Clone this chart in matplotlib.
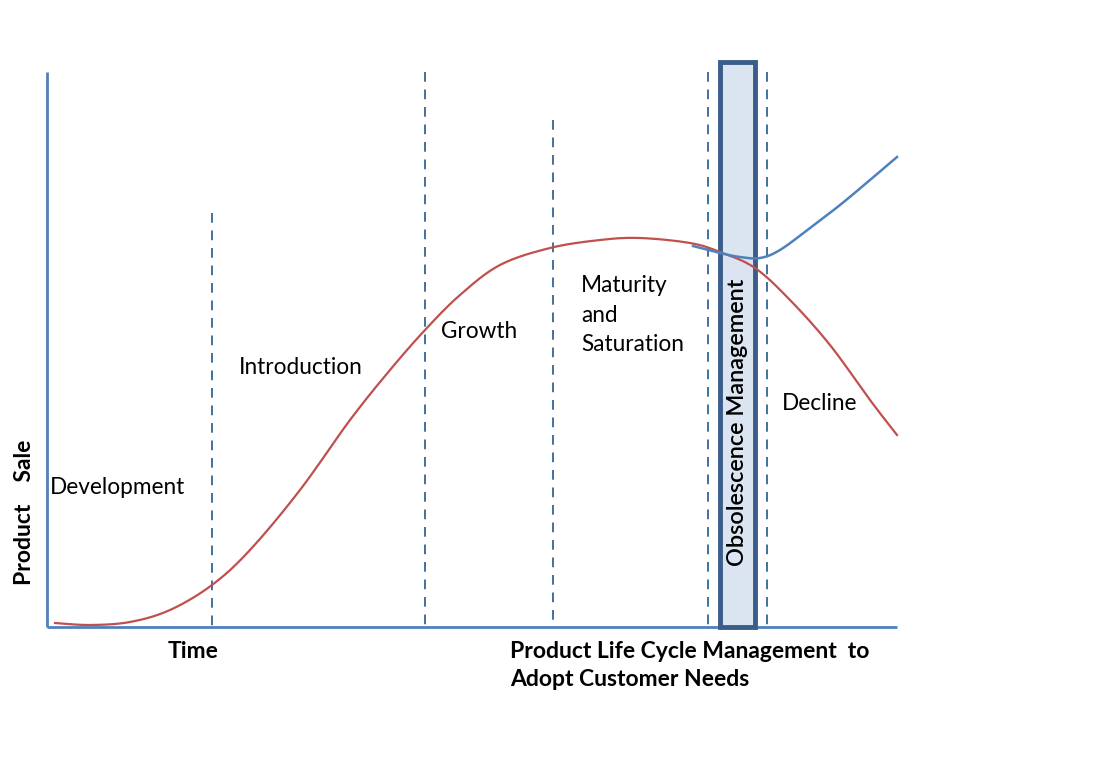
import matplotlib
matplotlib.use("Agg")
import matplotlib.pyplot as plt
import numpy as np
from matplotlib.patches import Rectangle

W, H = 1111, 782

# Sales curve (pixel-space coordinates of the diagram)
sales_x = [55, 90, 130, 170, 212, 250, 300, 350, 390, 425, 460, 500, 550, 600, 640, 690, 720, 755, 790, 830, 870, 897]
sales_y = [623, 625, 622, 610, 585, 550, 490, 420, 370, 330, 295, 265, 248, 240, 238, 243, 252, 268, 300, 345, 400, 435]

# New product curve after obsolescence management
new_x = [693, 720, 740, 760, 780, 810, 840, 870, 897]
new_y = [246, 253, 257, 258, 250, 228, 205, 180, 157]

# Phase boundaries: x, top y
bound_x = [212, 425, 553, 708, 767]
bound_top = [213, 72, 120, 72, 72]

phase_labels = ["Development", "Introduction", "Growth", "Maturity\nand\nSaturation", "Decline"]
phase_pos = [(50, 487), (239, 367), (441, 331), (581, 315), (782, 404)]

plt.rcParams['font.family'] = ['Lato', 'DejaVu Sans']
fig = plt.figure(figsize=(W / 100, H / 100), dpi=100)
ax = fig.add_axes([0, 0, 1, 1])
ax.set_xlim(0, W)
ax.set_ylim(H, 0)
ax.axis('off')

axis_col = '#4f81bd'
base_y = 627
left_x = 47
right_x = 897
ax.plot([left_x, left_x], [72, base_y], color=axis_col, lw=2, solid_capstyle='butt')
ax.plot([left_x, right_x], [base_y, base_y], color=axis_col, lw=2, solid_capstyle='butt')

for bx, bt in zip(bound_x, bound_top):
    ax.plot([bx, bx], [bt, base_y], color='#41719c', lw=1.4, ls=(0, (5, 4)))

ax.add_patch(Rectangle((720, 62), 35, base_y - 62, facecolor='#dbe5f1', edgecolor='#3a5d8a', lw=3.5, zorder=3))


def smooth(xs, ys):
    xs = np.asarray(xs, float); ys = np.asarray(ys, float)
    out = []
    for i in range(len(xs) - 1):
        p0 = np.array([xs[max(i - 1, 0)], ys[max(i - 1, 0)]])
        p1 = np.array([xs[i], ys[i]])
        p2 = np.array([xs[i + 1], ys[i + 1]])
        p3 = np.array([xs[min(i + 2, len(xs) - 1)], ys[min(i + 2, len(xs) - 1)]])
        for s in np.linspace(0, 1, 20, endpoint=False):
            s2, s3 = s * s, s * s * s
            pt = 0.5 * ((2 * p1) + (-p0 + p2) * s + (2 * p0 - 5 * p1 + 4 * p2 - p3) * s2 + (-p0 + 3 * p1 - 3 * p2 + p3) * s3)
            out.append(pt)
    out.append([xs[-1], ys[-1]])
    out = np.array(out)
    return out[:, 0], out[:, 1]

sx, sy = smooth(sales_x, sales_y)
ax.plot(sx, sy, color='#c0504d', lw=1.6, zorder=4)
nx, ny = smooth(new_x, new_y)
ax.plot(nx, ny, color='#4f81bd', lw=1.8, zorder=4)

fs = 16.3
for lab, (px, py) in zip(phase_labels, phase_pos):
    ax.text(px, py, lab, fontsize=fs, ha='left', va='center', linespacing=1.5)

bfs = 16.5
ax.text(737.5, 422, "Obsolescence Management", rotation=90, ha='center', va='center', fontsize=16.9, fontweight='semibold', zorder=5)
ax.text(193, 651, "Time", ha='center', va='center', fontsize=bfs, fontweight='bold')
ax.text(510, 651, "Product Life Cycle Management  to", ha='left', va='center', fontsize=bfs, fontweight='bold')
ax.text(510, 680, "Adopt Customer Needs", ha='left', va='center', fontsize=bfs, fontweight='bold')
ax.text(25, 512, "Product    Sale", rotation=90, ha='center', va='center', fontsize=bfs, fontweight='bold')

fig.savefig('out.png', dpi=100)
